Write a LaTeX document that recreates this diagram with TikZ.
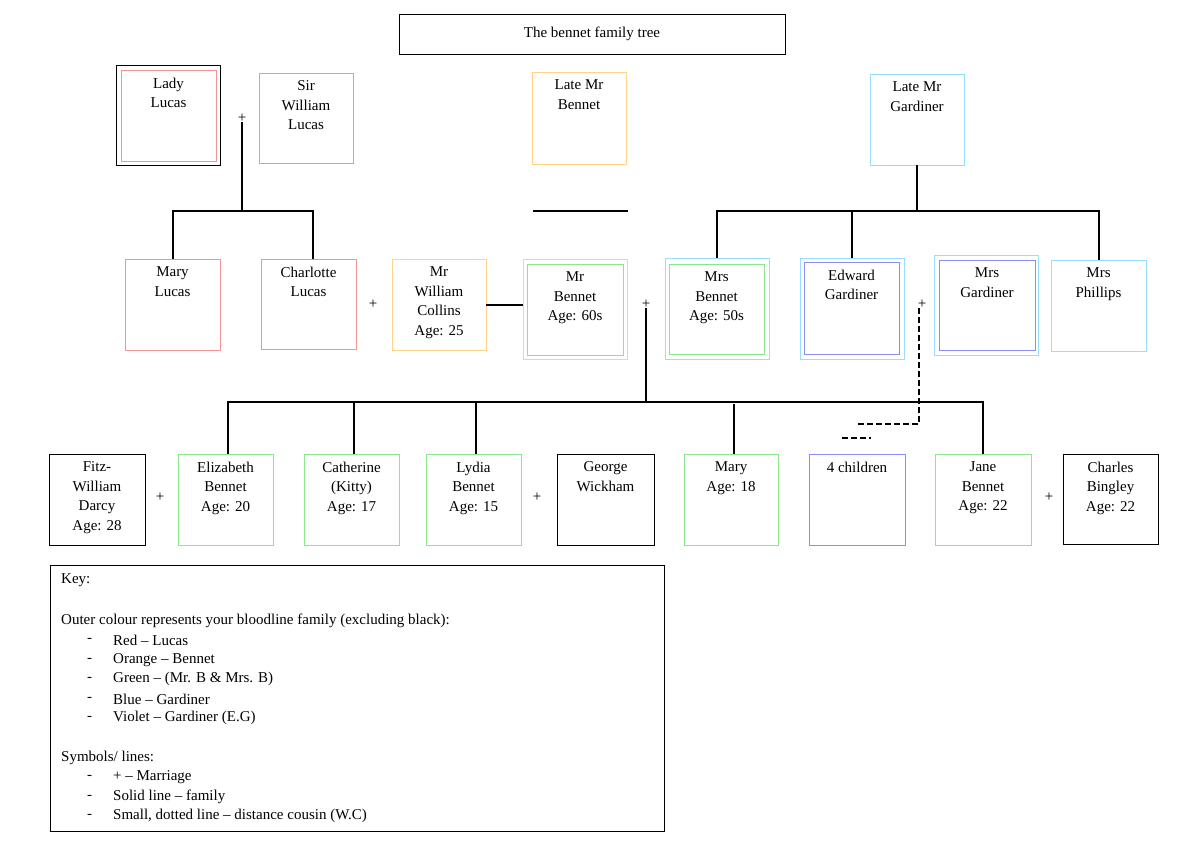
\documentclass[tikz,border=0pt]{standalone}
\usepackage{fontspec}
\setmainfont{Liberation Serif}
\definecolor{cred}{HTML}{F49494}
\definecolor{cora}{HTML}{FFD38A}
\definecolor{cgrn}{HTML}{8AE88A}
\definecolor{cblu}{HTML}{99DDFF}
\definecolor{cvio}{HTML}{8C8CF5}
\tikzset{
 bx/.style={draw=#1,line width=0.9pt,inner sep=0pt},
 lbl/.style={anchor=north,align=center,font=\fontsize{15}{19.5}\selectfont,inner sep=0pt},
 con/.style={line width=2pt},
 dcon/.style={line width=2pt,dash pattern=on 6pt off 3pt},
 pl/.style={font=\fontsize{15}{16}\selectfont,inner sep=0pt},
 kt/.style={anchor=west,font=\fontsize{15}{16}\selectfont,inner sep=0pt}
}
\newcommand{\fbx}[7]{\node[bx=#6,minimum width=#4pt,minimum height=#5pt] (#1) at (#2,#3) {};
 \node[lbl] at ([yshift=-8pt]#1.north) {#7};}
\newcommand{\ibx}[6]{\node[bx=#6,minimum width=#4pt,minimum height=#5pt] (#1) at (#2,#3) {};}
\begin{document}
\begin{tikzpicture}[x=1pt,y=-1pt]
\useasboundingbox (0,0) rectangle (1200,849);
\node[draw,line width=0.9pt,minimum width=386pt,minimum height=40pt,font=\fontsize{15}{16}\selectfont] (title) at (592,34) {The bennet family tree};
% row 1
\ibx{ladyo}{168}{115}{104}{100}{black}
\fbx{lady}{168.5}{115.5}{95}{91}{cred}{Lady\\Lucas}
\fbx{sirw}{306}{118}{94}{90}{cred}{Sir\\William\\Lucas}
\fbx{lbennet}{579}{118}{94}{92}{cora}{Late Mr\\Bennet}
\fbx{lgard}{917}{119.5}{94}{91}{cblu}{Late Mr\\Gardiner}
% row 2
\fbx{mlucas}{172.5}{304.5}{95}{91}{cred}{Mary\\Lucas}
\fbx{charl}{308.5}{304}{95}{90}{cred}{Charlotte\\Lucas}
\fbx{collins}{439}{304.5}{94}{91}{cora}{Mr\\William\\Collins\\Age: 25}
\ibx{mrbo}{575}{309}{104}{100}{cora}
\fbx{mrb}{575}{309.5}{96}{91}{cgrn}{Mr\\Bennet\\Age: 60s}
\ibx{mrsbo}{717}{308.5}{104}{101}{cblu}
\fbx{mrsb}{716.5}{309}{95}{90}{cgrn}{Mrs\\Bennet\\Age: 50s}
\ibx{edwo}{852}{308.5}{104}{101}{cblu}
\fbx{edw}{851.5}{308}{95}{92}{cvio}{Edward\\Gardiner}
\ibx{mrsgo}{986}{305}{104}{100}{cblu}
\fbx{mrsg}{987}{305}{96}{90}{cvio}{Mrs\\Gardiner}
\fbx{phil}{1098.5}{305.5}{95}{91}{cblu}{Mrs\\Phillips}
% row 3
\fbx{darcy}{97}{499.5}{96}{91}{black}{Fitz-\\William\\Darcy\\Age: 28}
\fbx{eliz}{225.5}{499.5}{95}{91}{cgrn}{Elizabeth\\Bennet\\Age: 20}
\fbx{cath}{351.5}{499.5}{95}{91}{cgrn}{Catherine\\(Kitty)\\Age: 17}
\fbx{lydia}{473.5}{499.5}{95}{91}{cgrn}{Lydia\\Bennet\\Age: 15}
\fbx{wick}{605.5}{499.5}{97}{91}{black}{George\\Wickham}
\fbx{mary}{731}{499.5}{94}{91}{cgrn}{Mary\\Age: 18}
\fbx{four}{857}{499.5}{96}{91}{cvio}{4 children}
\fbx{jane}{983}{499.5}{96}{91}{cgrn}{Jane\\Bennet\\Age: 22}
\fbx{bing}{1110.5}{499}{95}{90}{black}{Charles\\Bingley\\Age: 22}
% plus signs
\node[pl] (lplus) at (242,118) {+};
\node[pl] (p1) at (373,304) {+};
\node[pl] (bplus) at (646,304) {+};
\node[pl] (eplus) at (922,304) {+};
\node[pl] (p2) at (160,497) {+};
\node[pl] (p3) at (537,497) {+};
\node[pl] (p4) at (1049,497) {+};
% connectors
\coordinate (lj) at (242,211);
\draw[con] (lplus.south) -- (lj);
\draw[con] (mlucas.north) |- (lj) -| ([xshift=4pt]charl.north);
\coordinate (s1) at (533,211); \coordinate (s2) at (628,211);
\draw[con] (s1) -- (s2);
\coordinate (gj) at (917,211);
\draw[con] (lgard.south) -- (gj);
\draw[con] (mrsbo.north) |- (gj) -| (phil.north);
\draw[con] (edwo.north) -- (edwo.north |- gj);
\draw[con] (collins.east) -- (collins.east -| mrbo.west);
\coordinate (bj) at (646,402);
\draw[con] (bplus.south) -- (bj);
\draw[con] ([xshift=2pt]eliz.north) |- (bj) -| (jane.north);
\draw[con] ([xshift=2pt]cath.north) -- ([xshift=2pt]cath.north |- bj);
\draw[con] ([xshift=2pt]lydia.north) -- ([xshift=2pt]lydia.north |- bj);
\draw[con] ([xshift=3pt]mary.north) -- ([xshift=3pt,yshift=-2pt]mary.north |- bj);
\coordinate (d1) at (919,424); \coordinate (d2) at (855,424);
\coordinate (d3) at (842,438); \coordinate (d4) at (871,438);
\draw[dcon] ([xshift=-3pt]eplus.south) -- (d1) -- (d2);
\draw[dcon] (d3) -- (d4);
% key
\node[draw,line width=0.9pt,minimum width=614pt,minimum height=266pt,inner sep=0pt] (key) at (357,698) {};
\node[kt] at (61,580) {Key:};
\node[kt] at (61,621) {Outer colour represents your bloodline family (excluding black):};
\foreach \y/\t in {640/Red -- Lucas,660/Orange -- Bennet,679/{Green -- (Mr. B \& Mrs. B)},699/Blue -- Gardiner,718/Violet -- Gardiner (E.G),777/{+ -- Marriage},797/Solid line -- family,816/{Small, dotted line -- distance cousin (W.C)}}{
  \node[kt] at (87,\y) {-};
  \node[kt] at (113,\y) {\t};}
\node[kt] at (61,758) {Symbols/ lines:};
\end{tikzpicture}
\end{document}
